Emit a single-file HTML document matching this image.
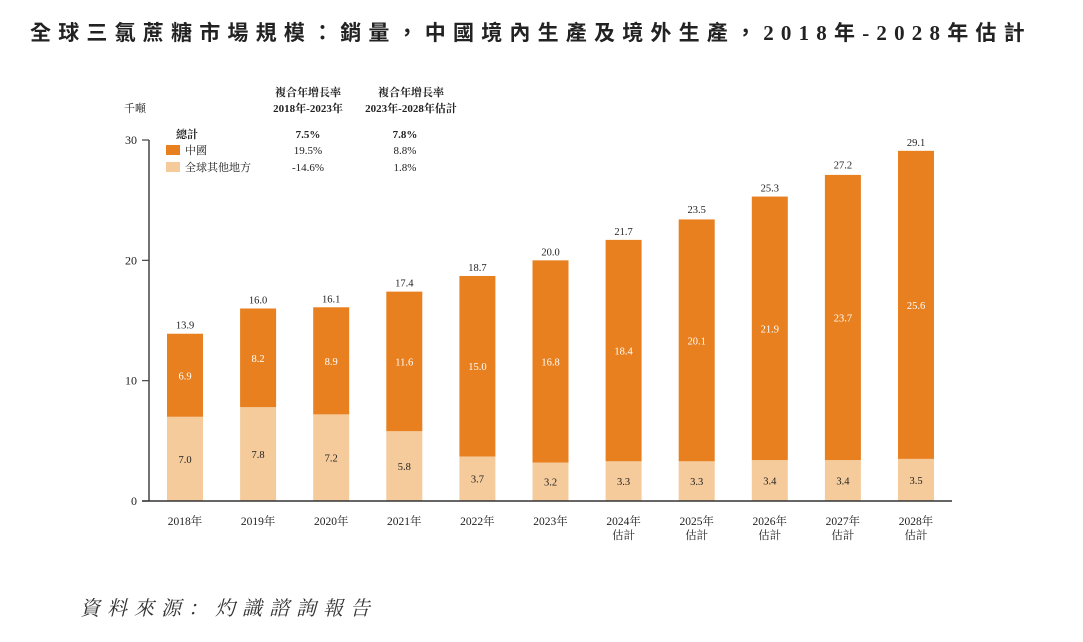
<!DOCTYPE html>
<html><head><meta charset="utf-8"><style>
body{margin:0;background:#fff;width:1083px;height:642px;overflow:hidden;font-family:"Liberation Serif","Noto Serif CJK SC",serif;}
#title{position:absolute;left:30px;top:17px;font-size:21px;font-weight:bold;letter-spacing:7.2px;color:#222;font-family:"Liberation Serif","Noto Sans CJK TC",sans-serif;white-space:nowrap}
#source{position:absolute;left:80px;top:592px;font-size:20px;font-style:italic;letter-spacing:7px;color:#333;font-family:"Liberation Serif","Noto Serif CJK SC",serif}
svg text{font-family:"Liberation Serif","Noto Serif CJK SC",serif;fill:#222}
</style></head><body>
<div id="title">全球三氯蔗糖市場規模：銷量，中國境內生產及境外生產，2018年-2028年估計</div>
<svg id="chart" width="1083" height="642" style="position:absolute;left:0;top:0">
<text x="124" y="112" font-size="11">千噸</text>
<text x="308" y="96" font-size="11" font-weight="bold" text-anchor="middle">複合年增長率</text>
<text x="308" y="112" font-size="11" font-weight="bold" text-anchor="middle">2018年-2023年</text>
<text x="411" y="96" font-size="11" font-weight="bold" text-anchor="middle">複合年增長率</text>
<text x="411" y="112" font-size="11" font-weight="bold" text-anchor="middle">2023年-2028年估計</text>
<text x="176" y="138" font-size="11" font-weight="bold">總計</text>
<rect x="166" y="145" width="14" height="10" fill="#E8801F"/>
<text x="185" y="154" font-size="11">中國</text>
<rect x="166" y="162" width="14" height="10" fill="#F5CB9C"/>
<text x="185" y="171" font-size="11">全球其他地方</text>
<text x="308" y="138" font-size="11" font-weight="bold" text-anchor="middle">7.5%</text>
<text x="308" y="154" font-size="11" text-anchor="middle">19.5%</text>
<text x="308" y="171" font-size="11" text-anchor="middle">-14.6%</text>
<text x="405" y="138" font-size="11" font-weight="bold" text-anchor="middle">7.8%</text>
<text x="405" y="154" font-size="11" text-anchor="middle">8.8%</text>
<text x="405" y="171" font-size="11" text-anchor="middle">1.8%</text>
<g id="plot"></g>
</svg>
<div id="source">資料來源：灼識諮詢報告</div>
<script>
const categories=["2018年","2019年","2020年","2021年","2022年","2023年","2024年\n估計","2025年\n估計","2026年\n估計","2027年\n估計","2028年\n估計"];
const restValues=[7.0,7.8,7.2,5.8,3.7,3.2,3.3,3.3,3.4,3.4,3.5];
const chinaValues=[6.9,8.2,8.9,11.6,15.0,16.8,18.4,20.1,21.9,23.7,25.6];
const totals=[13.9,16.0,16.1,17.4,18.7,20.0,21.7,23.5,25.3,27.2,29.1];
const yTicks=[0,10,20,30];
const NS="http://www.w3.org/2000/svg";
const g=document.getElementById('plot');
const y0=501,y1=140,yMax=30;
const y=v=>y0-(y0-y1)*v/yMax;
const x=i=>185+i*73.1;
const bw=36;
function el(t,a){const e=document.createElementNS(NS,t);for(const k in a)e.setAttribute(k,a[k]);g.appendChild(e);return e;}
const ax=el('line',{x1:149,y1:y(30),x2:149,y2:y0,stroke:'#444','stroke-width':1.5});


yTicks.forEach(t=>{
 const l=el('line',{x1:142,y1:y(t),x2:149,y2:y(t),stroke:'#444','stroke-width':1.2});
 
 
 const tx=el('text',{x:137,y:y(t)+4,'font-size':12,'text-anchor':'end'});
 tx.textContent=t;
 
 
});
categories.forEach((c,i)=>{
 const cx=x(i);
 const r=el('rect',{x:cx-bw/2,y:y(restValues[i]),width:bw,height:y0-y(restValues[i]),fill:'#F5CB9C'});
 
 
 const top=restValues[i]+chinaValues[i];
 const b=el('rect',{x:cx-bw/2,y:y(top),width:bw,height:y(restValues[i])-y(top),fill:'#E8801F'});
 
 
 const rl=el('text',{x:cx,y:(y(restValues[i])+y0)/2+4,'font-size':10.5,'text-anchor':'middle'});
 rl.textContent=restValues[i].toFixed(1);
 
 
 const cl=el('text',{x:cx,y:(y(top)+y(restValues[i]))/2+4,'font-size':10.5,'text-anchor':'middle',fill:'#fff'});
 cl.style.fill='#fff';
 cl.textContent=chinaValues[i].toFixed(1);
 
 
 const tl=el('text',{x:cx,y:y(totals[i])-5,'font-size':10.5,'text-anchor':'middle'});
 tl.textContent=totals[i].toFixed(1);
 
 
 c.split('\n').forEach((s,j)=>{
  const xl=el('text',{x:cx,y:525+j*14,'font-size':11.5,'text-anchor':'middle'});
  xl.textContent=s;
  
  
 });
});
const xa=el('line',{x1:142,y1:y0,x2:952,y2:y0,stroke:'#333','stroke-width':1.5});


</script>
</body></html>
